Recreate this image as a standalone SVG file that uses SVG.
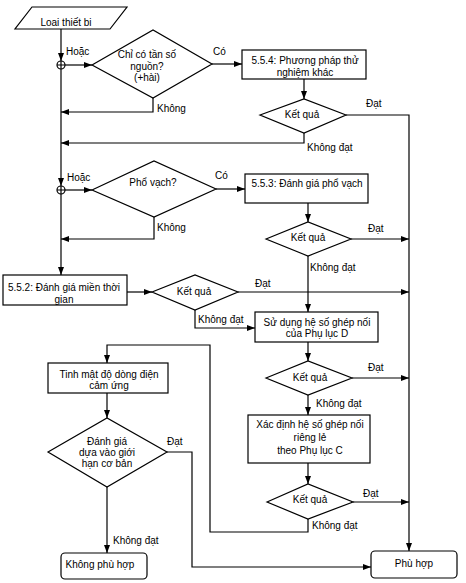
<svg xmlns="http://www.w3.org/2000/svg" width="466" height="583" viewBox="0 0 466 583">
<defs>
<marker id="a" viewBox="0 0 8 6" refX="8" refY="3" markerWidth="8" markerHeight="6" orient="auto" markerUnits="userSpaceOnUse"><path d="M0,0 L8,3 L0,6 z" fill="#000"/></marker>
<style>
.s{fill:#fff;stroke:#000;stroke-width:1.2}
.c{fill:none;stroke:#000;stroke-width:1.2;marker-end:url(#a)}
.n{fill:none;stroke:#000;stroke-width:1.2}
text{font-family:"Liberation Sans",Arial,sans-serif;font-size:10px;fill:#000}
.m{text-anchor:middle}
</style>
</defs>
<rect width="466" height="583" fill="#fff"/>
<g id="connectors">
<path class="c" d="M61,29 V61"/>
<path class="c" d="M65,65 H92"/>
<path class="c" d="M212,64 H242"/>
<path class="c" d="M304,79 V99"/>
<path class="c" d="M346,115 H409 V551"/>
<path class="c" d="M153,98 V112 H61"/>
<path class="c" d="M304,133 V143 H61"/>
<path class="c" d="M61,69 V186"/>
<path class="c" d="M65,190 H92"/>
<path class="c" d="M216,189 H245"/>
<path class="c" d="M308,203 V222"/>
<path class="c" d="M351,239 H409"/>
<path class="c" d="M154,217 V239 H61"/>
<path class="c" d="M61,194 V275"/>
<path class="c" d="M127,292 H152"/>
<path class="c" d="M238,292 H409"/>
<path class="c" d="M195,310 V328 H255"/>
<path class="c" d="M308,256 V312"/>
<path class="c" d="M308,342 V361"/>
<path class="c" d="M352,378 H409"/>
<path class="c" d="M308,395 V415"/>
<path class="c" d="M308,463 V484"/>
<path class="c" d="M353,502 H409"/>
<path class="c" d="M308,519 V532 H210 V345 H107 V363"/>
<path class="c" d="M107,393 V418"/>
<path class="c" d="M167,452 H192 V567 H371"/>
<path class="c" d="M107,487 V553"/>
<circle class="s" cx="61" cy="65" r="4"/>
<path class="n" d="M57,65 H65 M61,61 V69"/>
<circle class="s" cx="61" cy="190" r="4"/>
<path class="n" d="M57,190 H65 M61,186 V194"/>
<text x="66" y="55">Hoặc</text>
<text x="213" y="55">Có</text>
<text x="157" y="112">Không</text>
<text x="366" y="107">Đạt</text>
<text x="307" y="151">Không đạt</text>
<text x="67" y="181">Hoặc</text>
<text x="215" y="179">Có</text>
<text x="157" y="231">Không</text>
<text x="368" y="232">Đạt</text>
<text x="310" y="271">Không đạt</text>
<text x="255" y="287">Đạt</text>
<text x="198" y="323">Không đạt</text>
<text x="368" y="371">Đạt</text>
<text x="316" y="407">Không đạt</text>
<text x="363" y="497">Đạt</text>
<text x="312" y="529">Không đạt</text>
<text x="167" y="445">Đạt</text>
<text x="113" y="544">Không đạt</text>
</g>
<g id="start">
<polygon class="s" points="32,7 127,7 110,29 15,29"/>
<text class="m" x="66" y="26">Loai thiết bi</text>
</g>
<g id="d1">
<polygon class="s" points="92,65 153,30 212,64 153,98"/>
<text class="m" x="147" y="58">Chỉ có tần số</text>
<text class="m" x="147" y="70">nguồn?</text>
<text class="m" x="147" y="81">(+hài)</text>
</g>
<g id="b554">
<rect class="s" x="242" y="50" width="124" height="29"/>
<text class="m" x="305" y="64">5.5.4: Phương pháp thử</text>
<text class="m" x="305" y="76">nghiệm khác</text>
</g>
<g id="kq1">
<polygon class="s" points="260,115 304,99 346,115 304,133"/>
<text class="m" x="302" y="118">Kết quả</text>
</g>
<g id="d2">
<polygon class="s" points="92,190 154,161 216,189 154,217"/>
<text class="m" x="153" y="186">Phổ vạch?</text>
</g>
<g id="b553">
<rect class="s" x="245" y="174" width="123" height="29"/>
<text class="m" x="307" y="187">5.5.3: Đánh giá phổ vạch</text>
</g>
<g id="kq2">
<polygon class="s" points="266,239 308,222 351,239 308,256"/>
<text class="m" x="308" y="241">Kết quả</text>
</g>
<g id="b552">
<rect class="s" x="3" y="275" width="124" height="30"/>
<text class="m" x="64" y="291">5.5.2: Đánh giá miền thời</text>
<text class="m" x="64" y="303">gian</text>
</g>
<g id="kq3">
<polygon class="s" points="152,292 195,275 238,292 195,310"/>
<text class="m" x="194" y="295">Kết quả</text>
</g>
<g id="bsd">
<rect class="s" x="255" y="312" width="123" height="30"/>
<text class="m" x="317" y="326">Sử dụng hệ số ghép nối</text>
<text class="m" x="317" y="337">của Phụ lục D</text>
</g>
<g id="kq4">
<polygon class="s" points="266,378 308,361 352,378 308,395"/>
<text class="m" x="310" y="381">Kết quả</text>
</g>
<g id="bxd">
<rect class="s" x="248" y="415" width="122" height="48"/>
<text class="m" x="310" y="428">Xác định hệ số ghép nối</text>
<text class="m" x="310" y="441">riêng lẻ</text>
<text class="m" x="310" y="454">theo Phụ lục C</text>
</g>
<g id="kq5">
<polygon class="s" points="267,502 308,484 353,502 308,519"/>
<text class="m" x="310" y="503">Kết quả</text>
</g>
<g id="btinh">
<rect class="s" x="48" y="363" width="120" height="30"/>
<text class="m" x="109" y="378">Tinh mật độ dòng điện</text>
<text class="m" x="109" y="389">cảm ứng</text>
</g>
<g id="d6">
<polygon class="s" points="48,452 107,418 167,452 107,487"/>
<text class="m" x="107" y="445">Đánh giá</text>
<text class="m" x="107" y="456">dựa vào giới</text>
<text class="m" x="107" y="467">hạn cơ bản</text>
</g>
<g id="khongphuhop">
<rect class="s" x="61" y="553" width="86" height="26" rx="4"/>
<text class="m" x="100" y="568">Không phù hợp</text>
</g>
<g id="phuhop">
<rect class="s" x="371" y="551" width="86" height="27" rx="4"/>
<text class="m" x="414" y="567">Phù hợp</text>
</g>
</svg>
